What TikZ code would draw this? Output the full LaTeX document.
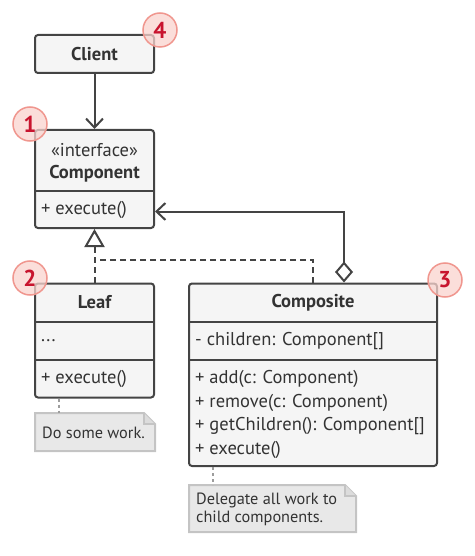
\documentclass[tikz,border=0pt]{standalone}
\usepackage{fontspec}
\setmainfont{PT Sans}
\usetikzlibrary{arrows.meta}
\definecolor{ln}{HTML}{444444}
\definecolor{tx}{HTML}{333333}
\definecolor{boxfill}{HTML}{F5F5F5}
\definecolor{notefill}{HTML}{E8E8E8}
\definecolor{notebd}{HTML}{C4C4C4}
\definecolor{bfill}{HTML}{F9D3CE}
\definecolor{bbd}{HTML}{F0968E}
\definecolor{bnum}{HTML}{C8142E}
\begin{document}
\begin{tikzpicture}[x=1pt,y=-1pt,
  font=\fontsize{18.5}{21}\selectfont, text=tx,
  umlbox/.style={draw=ln, line width=2pt, fill=boxfill, rounded corners=3pt, inner sep=0pt},
  divline/.style={draw=ln, line width=2pt},
  lbl/.style={inner sep=0pt, anchor=west},
  ttl/.style={inner sep=0pt, font=\fontsize{18.5}{21}\selectfont\bfseries},
  conn/.style={draw=ln, line width=2pt},
  dconn/.style={draw=ln, line width=2pt, dash pattern=on 6pt off 4pt},
  noteln/.style={draw=notebd!80!black, line width=1.5pt, dash pattern=on 3pt off 3pt},
  notebox/.style={draw=notebd, line width=2pt, fill=notefill},
  notetxt/.style={inner sep=0pt, anchor=west, align=left, font=\fontsize{16.3}{18}\selectfont},
  badge/.style={circle, minimum size=34pt, inner sep=0pt, draw=bbd, line width=1.5pt, fill=bfill, fill opacity=0.75, text opacity=1, text=bnum, font=\fontsize{23}{23}\selectfont\bfseries}
]
\useasboundingbox (0,0) rectangle (474,556);
% Client
\node[umlbox, minimum width=119pt, minimum height=38pt] (client) at (94.5,54) {};
\node[ttl] (clientt) at (94.5,54) {Client};
% Component
\node[umlbox, minimum width=119pt, minimum height=98pt] (comp) at (94.5,179) {};
\draw[divline] (comp.west |- 0,191) -- (comp.east |- 0,191);
\node[inner sep=0pt] (compi) at (94.5,150) {«interface»};
\node[ttl] (compt) at (94.5,174) {Component};
\node[lbl] (compm) at (41,210) {+ execute()};
% Leaf
\node[umlbox, minimum width=119pt, minimum height=114pt] (leaf) at (94.5,340.5) {};
\draw[divline] (leaf.west |- 0,322) -- (leaf.east |- 0,322);
\draw[divline] (leaf.west |- 0,359.5) -- (leaf.east |- 0,359.5);
\node[ttl] (leaft) at (94.5,302.5) {Leaf};
\node[lbl] (leafa) at (41,341) {...};
\node[lbl] (leafm) at (41,378.5) {+ execute()};
% Composite
\node[umlbox, minimum width=248pt, minimum height=182.5pt] (compo) at (313,374.75) {};
\draw[divline] (compo.west |- 0,321.5) -- (compo.east |- 0,321.5);
\draw[divline] (compo.west |- 0,359.5) -- (compo.east |- 0,359.5);
\node[ttl] (compot) at (313,303) {Composite};
\node[lbl] (compoa) at (195,341) {- children: Component[]};
\node[lbl] (compom1) at (195,379) {+ add(c: Component)};
\node[lbl] (compom2) at (195,402.5) {+ remove(c: Component)};
\node[lbl] (compom3) at (195,426) {+ getChildren(): Component[]};
\node[lbl] (compom4) at (195,449.5) {+ execute()};
% Notes
\draw[notebox] (35,413) -- (144,413) -- (155,424) -- (155,451) -- (35,451) -- cycle;
\draw[notebd, line width=1.5pt, fill=notebd!60] (144,413) -- (144,424) -- (155,424);
\node[notetxt] (note1) at (42,432.5) {Do some work.};
\coordinate (n1top) at (59,413);
\draw[noteln] (leaf.south -| n1top) -- (n1top);
\draw[notebox] (189,485) -- (345,485) -- (356,496) -- (356,532) -- (189,532) -- cycle;
\draw[notebd, line width=1.5pt, fill=notebd!60] (345,485) -- (345,496) -- (356,496);
\node[notetxt] (note2) at (196,509.5) {Delegate all work to\\child components.};
\coordinate (n2top) at (213,485);
\draw[noteln] (compo.south -| n2top) -- (n2top);
% Connectors
\draw[conn, -{Straight Barb[length=9pt,width=17pt,line width=2pt]}] (client.south) -- (comp.north);
\draw[dconn, -{Triangle[open,length=18pt,width=20pt,line width=2pt,fill=white]}] (leaf.north) -- (comp.south);
\coordinate (cj) at (313,259.5);
\draw[dconn] (compo.north -| cj) -- (cj) -- (cj -| leaf.north);
\coordinate (ag) at (344,211.5);
\draw[conn, {Diamond[open,length=21pt,width=18pt,line width=2pt,fill=white]}-{Straight Barb[length=9pt,width=17pt,line width=2pt]}] (compo.north -| ag) -- (ag) -- (ag -| comp.east);
% Badges
\node[badge] (b4) at (160,30) {4};
\node[badge] (b1) at (30,124) {1};
\node[badge] (b2) at (30,278) {2};
\node[badge] (b3) at (445,280) {3};
\end{tikzpicture}
\end{document}
